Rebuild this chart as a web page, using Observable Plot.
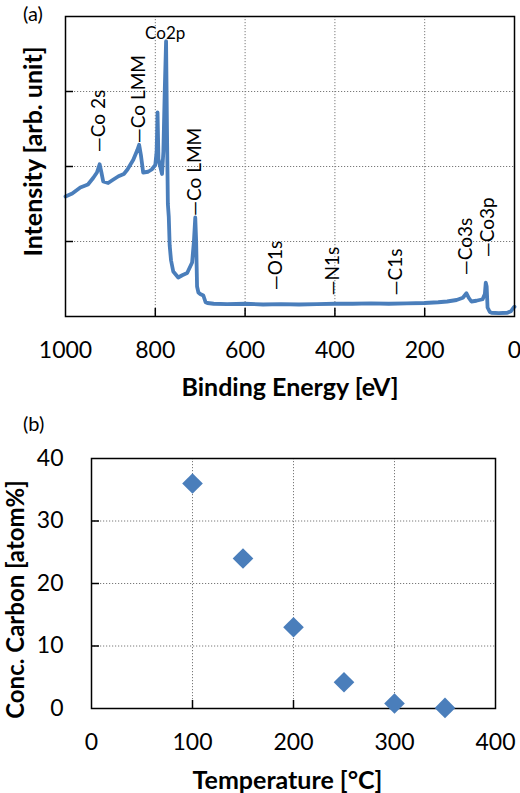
<!DOCTYPE html>
<html>
<head>
<meta charset="utf-8">
<script src="https://cdn.jsdelivr.net/npm/d3@7"></script>
<script src="https://cdn.jsdelivr.net/npm/@observablehq/plot@0.6"></script>
<style>
  html, body { margin: 0; padding: 0; background: #fff; }
  #wrap { position: relative; width: 520px; height: 793px; font-family: Lato, "Open Sans", sans-serif; }
  #wrap svg { display: block; }
  .panel { position: absolute; left: 23px; font-size: 20px; color: #000; line-height: 24px; }
</style>
</head>
<body>
<div id="wrap">
  <div id="chartA"></div>
  <div id="chartB"></div>
  <div class="panel" style="top:1px">(a)</div>
  <div class="panel" style="top:411px">(b)</div>
</div>
<script>
// ---------- Panel (a): XPS survey spectrum ----------
const energy = [1000, 985, 967, 950, 938, 930, 924, 920, 916, 905, 895, 882, 870, 862, 849, 840, 836, 832, 827, 816, 808, 800, 797, 795, 793, 789, 785, 782, 779, 776, 774, 772, 770, 768, 765, 760, 749, 740, 729, 718, 714, 711, 709, 707, 704, 700, 693, 688, 684, 670, 640, 600, 560, 520, 480, 440, 400, 360, 320, 280, 240, 200, 170, 150, 129, 115, 107, 102, 96, 85, 71, 66, 64, 62, 60, 55, 51, 35, 16, 8, 2, 0];
const intensity = [1.60, 1.64, 1.72, 1.76, 1.85, 1.92, 2.03, 1.92, 1.80, 1.78, 1.82, 1.87, 1.90, 1.96, 2.09, 2.22, 2.29, 2.15, 1.92, 1.93, 1.96, 2.02, 2.20, 2.72, 2.10, 2.00, 1.90, 2.20, 3.00, 3.67, 2.50, 1.50, 1.33, 0.95, 0.75, 0.60, 0.52, 0.55, 0.58, 0.72, 1.00, 1.32, 1.00, 0.40, 0.32, 0.30, 0.28, 0.19, 0.18, 0.17, 0.165, 0.17, 0.16, 0.165, 0.16, 0.165, 0.17, 0.17, 0.175, 0.17, 0.175, 0.18, 0.19, 0.20, 0.22, 0.25, 0.31, 0.25, 0.20, 0.21, 0.23, 0.30, 0.45, 0.40, 0.12, 0.06, 0.05, 0.045, 0.05, 0.07, 0.12, 0.13];

const peakNames = ["Co 2s", "Co LMM", "Co LMM", "O1s", "N1s", "C1s", "Co3s", "Co3p"];
const peakEnergy = [925, 836, 711, 531, 404, 264, 108, 59];
const peakLabelBase = [2.19, 2.31, 1.34, 0.35, 0.28, 0.28, 0.55, 0.79];
const mainPeakName = ["Co2p"];
const mainPeakEnergy = [778];
const mainPeakY = [3.77];

const xTicksA = [1000, 800, 600, 400, 200, 0];
const xGridA = [800, 600, 400, 200];
const yGridA = [1, 2, 3];

// ---------- Panel (b): carbon concentration ----------
const temperature = [100, 150, 200, 250, 300, 350];
const carbon = [36, 24, 13, 4.2, 0.8, 0.1];
const xTicksB = [0, 100, 200, 300, 400];
const yTicksB = [0, 10, 20, 30, 40];
const xGridB = [100, 200, 300];
const yGridB = [10, 20, 30];

const BLUE = "#4a7ebb";
const GRID = { stroke: "#7a7a7a", strokeDasharray: "1.2,1.8", strokeOpacity: 1, strokeWidth: 1 };
const FONT = "Lato, 'Open Sans', sans-serif";

const spectrum = energy.map((e, i) => ({ e, v: intensity[i] }));
const peaks = peakNames.map((n, i) => ({ n: "\u2014" + n, e: peakEnergy[i], v: peakLabelBase[i] }));
const mainPeak = mainPeakName.map((n, i) => ({ n, e: mainPeakEnergy[i], v: mainPeakY[i] }));

const wA = 520, hA = 400, mlA = 65, mrA = 6, mtA = 16, mbA = 84;
const plotA = Plot.plot({
  width: wA, height: hA,
  marginLeft: mlA, marginRight: mrA, marginTop: mtA, marginBottom: mbA,
  style: { fontFamily: FONT, color: "#000", background: "#fff", overflow: "visible" },
  x: { domain: [1000, 0] },
  y: { domain: [0, 4], axis: null },
  marks: [
    Plot.gridX(xGridA, GRID),
    Plot.gridY(yGridA, GRID),
    Plot.ruleX(xGridA, { stroke: "#000", strokeWidth: 1.5, insetTop: (hA - mtA - mbA) - 8 }),
    Plot.ruleY(yGridA, { stroke: "#000", strokeWidth: 1.5, insetRight: (wA - mlA - mrA) - 8 }),
    Plot.line(spectrum, { x: "e", y: "v", stroke: BLUE, strokeWidth: 3.8, strokeLinejoin: "round", curve: "linear" }),
    Plot.frame({ stroke: "#000", strokeWidth: 1.5 }),
    Plot.text(peaks, { x: "e", y: "v", text: "n", rotate: -90, textAnchor: "start", lineAnchor: "middle", fontSize: 19, fill: "#000" }),
    Plot.text(mainPeak, { x: "e", y: "v", text: "n", textAnchor: "middle", lineAnchor: "middle", fontSize: 17, fill: "#000" }),
    Plot.axisX(xTicksA, { tickSize: 0, tickPadding: 25, fontSize: 23, tickFormat: d => String(d), label: null }),
    Plot.text(["Binding Energy [eV]"], { frameAnchor: "bottom", dy: 71, fontSize: 25, fontWeight: "bold", fill: "#000", lineAnchor: "middle", textAnchor: "middle" }),
    Plot.text(["Intensity [arb. unit]"], { frameAnchor: "left", dx: -32, dy: -15, rotate: -90, fontSize: 25, fontWeight: "bold", fill: "#000", lineAnchor: "middle", textAnchor: "middle" })
  ]
});
document.getElementById("chartA").appendChild(plotA);

const pointsB = temperature.map((t, i) => ({ t, c: carbon[i] }));
const wB = 520, hB = 393, mlB = 91, mrB = 25, mtB = 58, mbB = 85;
const plotB = Plot.plot({
  width: wB, height: hB,
  marginLeft: mlB, marginRight: mrB, marginTop: mtB, marginBottom: mbB,
  style: { fontFamily: FONT, color: "#000", background: "#fff", overflow: "visible" },
  x: { domain: [0, 400] },
  y: { domain: [0, 40] },
  marks: [
    Plot.gridX(xGridB, GRID),
    Plot.gridY(yGridB, GRID),
    Plot.ruleX(xGridB, { stroke: "#000", strokeWidth: 1.5, insetTop: (hB - mtB - mbB) - 8 }),
    Plot.ruleY(yGridB, { stroke: "#000", strokeWidth: 1.5, insetRight: (wB - mlB - mrB) - 8 }),
    Plot.frame({ stroke: "#000", strokeWidth: 1.5 }),
    Plot.dot(pointsB, { x: "t", y: "c", symbol: "diamond2", r: 9.3, fill: BLUE, stroke: null }),
    Plot.axisX(xTicksB, { tickSize: 0, tickPadding: 25, fontSize: 23, tickFormat: d => String(d), label: null }),
    Plot.axisY(yTicksB, { tickSize: 0, tickPadding: 28, fontSize: 23, tickFormat: d => String(d), label: null }),
    Plot.text(["Temperature [\u00b0C]"], { frameAnchor: "bottom", dx: -6, dy: 72, fontSize: 25, fontWeight: "bold", fill: "#000", lineAnchor: "middle", textAnchor: "middle" }),
    Plot.text(["Conc. Carbon [atom%]"], { frameAnchor: "left", dx: -75, dy: 16, rotate: -90, fontSize: 24, fontWeight: "bold", fill: "#000", lineAnchor: "middle", textAnchor: "middle" })
  ]
});
document.getElementById("chartB").appendChild(plotB);
</script>
</body>
</html>
